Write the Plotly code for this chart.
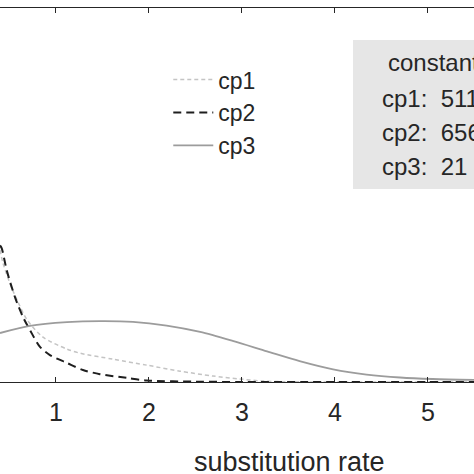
import plotly.graph_objects as go

# Data (density, arbitrary units; axis 0 at bottom, 1 at top of frame)
cp1_x = [0.398, 0.43, 0.52, 0.58, 0.69, 0.86, 1.118, 1.258, 1.613, 1.978, 2.333, 2.688, 2.978, 3.2, 3.41, 4.0, 5.0, 5.6]
cp1_y = [0.353, 0.318, 0.254, 0.220, 0.166, 0.120, 0.088, 0.077, 0.061, 0.045, 0.029, 0.016, 0.008, 0.003, 0.001, 0.0, 0.0, 0.0]

cp2_x = [0.398, 0.416, 0.47, 0.559, 0.645, 0.72, 0.828, 0.935, 1.118, 1.29, 1.473, 1.763, 1.978, 2.5, 3.0, 4.0, 5.0, 5.6]
cp2_y = [0.365, 0.358, 0.299, 0.227, 0.174, 0.139, 0.094, 0.072, 0.051, 0.032, 0.021, 0.011, 0.004, 0.001, 0.0, 0.0, 0.0, 0.0]

cp3_x = [0.398, 0.72, 1.118, 1.473, 1.828, 2.19, 2.55, 2.9, 3.27, 3.62, 3.98, 4.34, 4.70, 5.05, 5.6]
cp3_y = [0.131, 0.150, 0.160, 0.163, 0.161, 0.151, 0.134, 0.110, 0.082, 0.056, 0.034, 0.020, 0.012, 0.008, 0.005]

tick_vals = [1, 2, 3, 4, 5]
tick_text = ["1", "2", "3", "4", "5"]

box_title = "constant sites"
box_lines = ["cp1:  5117", "cp2:  6563", "cp3:  21"]

FONT = "Liberation Sans, Arial, Helvetica, sans-serif"
TXT = "#262626"

fig = go.Figure()
fig.add_trace(go.Scatter(x=cp1_x, y=cp1_y, mode="lines", name="cp1",
                         line=dict(color="#c4c4c4", width=1.5, dash="4px,3px", shape="spline", smoothing=0.8)))
fig.add_trace(go.Scatter(x=cp2_x, y=cp2_y, mode="lines", name="cp2",
                         line=dict(color="#1e1e1e", width=2, dash="8px,5px", shape="spline", smoothing=0.8)))
fig.add_trace(go.Scatter(x=cp3_x, y=cp3_y, mode="lines", name="cp3",
                         line=dict(color="#9c9c9c", width=1.8, shape="spline", smoothing=0.8)))

fig.update_layout(
    width=474, height=474,
    margin=dict(l=0, r=0, t=8, b=92),
    paper_bgcolor="white", plot_bgcolor="white",
    font=dict(family=FONT, color=TXT),
    showlegend=True,
    legend=dict(x=0.355, y=0.866, xanchor="left", yanchor="top",
                bgcolor="rgba(0,0,0,0)", font=dict(size=23, color=TXT),
                tracegroupgap=0, itemwidth=40),
    xaxis=dict(range=[0.398, 5.495], showgrid=False, zeroline=False,
               showline=True, linecolor=TXT, linewidth=1.2, mirror="ticks",
               ticks="inside", ticklen=5, tickcolor=TXT, tickwidth=1.2,
               tickvals=tick_vals, ticktext=tick_text,
               tickfont=dict(size=25, color=TXT), ticklabelstandoff=8),
    yaxis=dict(range=[0, 1], visible=False),
)

fig.add_shape(type="rect", xref="paper", yref="paper",
              x0=353/474, x1=1.1, y0=(382-189)/374, y1=(382-40)/374,
              fillcolor="#e6e6e6", line=dict(width=0), layer="below")

fig.add_annotation(xref="paper", yref="paper", x=386/474, y=(382-62)/374,
                   xanchor="left", yanchor="middle", showarrow=False,
                   text=box_title, font=dict(size=24, color=TXT))
for i, t in enumerate(box_lines):
    fig.add_annotation(xref="paper", yref="paper", x=380/474, y=(382-(99+33.5*i))/374,
                       xanchor="left", yanchor="middle", showarrow=False,
                       text=t.replace(" ", "&nbsp;"), font=dict(size=24, color=TXT))

fig.add_annotation(xref="paper", yref="paper", x=289/474, y=(382-462)/374,
                   xanchor="center", yanchor="middle", showarrow=False,
                   text="substitution rate", font=dict(size=27, color=TXT))

fig.write_html("out.html")
